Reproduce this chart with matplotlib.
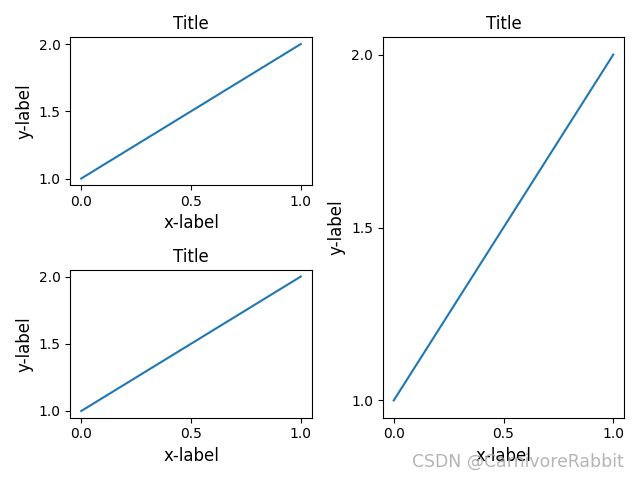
import matplotlib
matplotlib.use("Agg")
import matplotlib.pyplot as plt
from matplotlib.gridspec import GridSpec

x_vals = [0, 1]
y_vals = [1, 2]
label_size = 12


def example_plot(ax, fontsize=label_size):
    ax.plot(x_vals, y_vals)
    ax.locator_params(nbins=3)
    ax.set_xlabel("x-label", fontsize=fontsize)
    ax.set_ylabel("y-label", fontsize=fontsize)
    ax.set_title("Title", fontsize=fontsize)


fig = plt.figure(figsize=(6.4, 4.8), dpi=100)
gs = GridSpec(2, 2, figure=fig)
ax1 = fig.add_subplot(gs[0, 0])
ax2 = fig.add_subplot(gs[1, 0])
ax3 = fig.add_subplot(gs[:, 1])

example_plot(ax1)
example_plot(ax2)
example_plot(ax3)

plt.tight_layout()

# watermark in the bottom right corner
fig.text(0.975, 0.02, "CSDN @CarnivoreRabbit", ha="right", va="bottom",
         fontsize=12.4, color="#a8a8a8", alpha=0.85)

plt.savefig("out.png")
plt.close()
